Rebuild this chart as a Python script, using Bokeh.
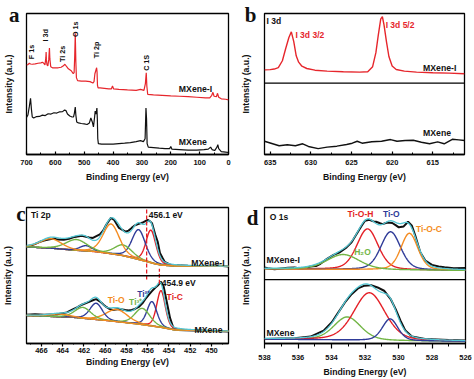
import numpy as np
from bokeh.plotting import figure
from bokeh.layouts import row, column
from bokeh.models import Range1d, Span, Label, SingleIntervalTicker, FixedTicker
from bokeh.embed import file_html
from bokeh.resources import INLINE

# ---------------- colours ----------------
TRACE_RED = "#e6262c"
RED = "#e41f26"
BLUE = "#2f3b98"
GREEN = "#72b545"
ORANGE = "#f48c22"
CYAN = "#55c7d4"
BLACK = "#111111"

# ---------------- (a) survey spectra ----------------
survey_mxi_be = [700, 695, 690, 686, 680, 670, 660, 650, 645, 640, 636, 633, 632, 631, 629, 626, 623,
                 620.5, 619, 616, 610, 600, 590, 580, 572, 567, 562, 555, 545, 538, 535, 533, 531, 529,
                 527, 523, 510, 495, 480, 470, 466, 463, 461, 459, 457, 455.5, 454, 452, 445, 430, 415,
                 406, 402, 398, 380, 350, 320, 305, 293, 288, 285, 283, 280, 260, 230, 200, 170, 140,
                 110, 80, 65, 58, 54, 50, 42, 38, 34, 25, 10, 0]
survey_mxi_int = [63.6, 63.8, 64.7, 64.2, 64.0, 64.3, 64.7, 65.0, 65.4, 64.7, 63.6, 68.5, 72.7, 67.1, 63.6,
                  62.9, 67.1, 75.5, 67.8, 62.2, 61.5, 61.5, 61.5, 61.9, 62.9, 64.0, 62.6, 60.8, 59.4,
                  57.3, 58.0, 69.2, 86.0, 65.7, 54.5, 52.4, 52.1, 52.1, 51.7, 50.7, 51.7, 57.3, 58.7,
                  60.1, 61.5, 58.7, 49.0, 47.2, 47.2, 46.9, 46.5, 46.5, 48.6, 46.5, 46.2, 45.8, 45.5,
                  46.2, 45.5, 50.3, 58.0, 48.6, 42.7, 42.3, 42.0, 41.6, 41.3, 41.0, 40.6, 40.2, 40.2,
                  42.0, 44.1, 41.3, 41.0, 43.4, 40.6, 39.5, 39.2, 38.8]

survey_mx_be = [700, 695, 690, 686, 683, 680, 675, 665, 655, 645, 635, 625, 615, 605, 595, 585, 575, 568,
                563, 558, 550, 542, 537, 534, 531, 529, 526, 520, 510, 500, 490, 482, 477, 472, 468, 464,
                462, 459, 456, 454.5, 453, 451, 440, 420, 400, 380, 360, 340, 320, 305, 295, 289, 286,
                284, 282, 278, 260, 240, 220, 204, 200, 196, 170, 140, 110, 85, 70, 62, 57, 48, 40, 37,
                34, 25, 10, 0]
survey_mx_int = [26.2, 28.0, 34.3, 39.9, 32.2, 26.6, 25.9, 26.9, 27.0, 27.9, 27.6, 28.9, 28.7, 29.6, 29.4,
                 30.3, 30.4, 31.5, 31.1, 28.7, 27.3, 26.6, 26.6, 29.4, 33.6, 28.0, 23.1, 22.4, 22.0, 21.7,
                 21.3, 22.4, 25.9, 23.1, 19.6, 26.6, 30.8, 28.7, 32.9, 25.2, 11.2, 7.7, 7.3, 7.3, 7.3,
                 7.7, 8.0, 8.4, 9.1, 9.8, 9.1, 11.2, 32.9, 25.2, 7.7, 5.2, 4.9, 4.5, 4.2, 4.2, 5.6, 3.8,
                 3.5, 3.1, 3.1, 3.5, 3.8, 5.2, 3.5, 2.8, 5.2, 7.0, 4.2, 2.1, 1.7, 1.4]

# ---------------- (b) I 3d ----------------
i3d_mxi_be = [635.7, 635.0, 634.5, 634.0, 633.5, 633.1, 632.7, 632.4, 632.1, 631.8, 631.5, 631.1, 630.5,
              629.5, 628.0, 626.0, 624.0, 623.0, 622.4, 622.0, 621.7, 621.4, 621.2, 621.0, 620.7, 620.4,
              620.0, 619.5, 618.5, 617.0, 615.0, 613.0, 611.1]
i3d_mxi_int = [60.0, 60.2, 60.6, 61.6, 66.5, 75.0, 83.0, 87.0, 80.0, 70.0, 65.5, 62.6, 61.0, 59.8, 59.1,
               58.7, 58.4, 58.7, 62.3, 72.2, 84.9, 96.2, 97.7, 92.0, 80.0, 69.5, 62.8, 60.3, 59.1, 58.4,
               58.0, 57.7, 57.3]
i3d_mx_be = [635.7, 634.9, 633.9, 632.9, 631.9, 631.0, 630.3, 629.1, 628.0, 626.8, 625.6, 624.9, 624.3,
             623.7, 622.5, 621.3, 620.2, 619.4, 618.4, 617.4, 616.4, 615.4, 614.4, 613.6, 612.6, 611.8,
             611.1]
i3d_mx_int = [9.4, 8.0, 6.2, 6.9, 6.2, 7.6, 5.7, 4.2, 5.2, 5.9, 7.1, 8.0, 9.4, 8.0, 9.0, 9.4, 10.6, 9.4,
              9.9, 10.1, 8.7, 7.6, 9.0, 7.6, 10.8, 10.4, 9.9]

# ---------------- (c) Ti 2p ----------------
ti2p_mxi_be = [467.4, 467.0, 466.67, 466.2, 465.75, 465.1, 464.8, 464.5, 463.9, 463.4, 463.0, 462.2,
               461.8, 461.5, 461.15, 460.5, 460.2, 459.9, 459.46, 459.15, 458.7, 458.1, 457.8, 457.5,
               457.2, 456.9, 456.4, 456.0, 455.8, 455.6, 455.3, 455.05, 454.85, 454.6, 454.4, 453.8,
               453.2, 452.2, 451.3, 450.4, 449.5, 448.4]
ti2p_mxi_int = [71.5, 72.0, 72.9, 74.6, 75.7, 76.9, 77.3, 76.4, 76.2, 77.0, 78.1, 79.2, 78.5, 78.0, 77.6,
                80.3, 83.0, 87.3, 92.4, 90.8, 85.0, 82.2, 83.0, 85.0, 86.9, 87.8, 89.2, 90.8, 90.0, 88.5,
                80.3, 74.5, 66.5, 62.8, 60.0, 57.6, 57.5, 57.2, 57.0, 57.2, 57.3, 56.7]
ti2p_mxi_bg_be = [448.4, 453.5, 454.7, 455.3, 456.0, 456.5, 457.5, 458.5, 459.9, 461.0, 463.0, 465.0, 467.4]
ti2p_mxi_bg = [56.7, 57.0, 57.6, 58.5, 60.0, 61.0, 63.0, 64.8, 66.4, 67.5, 68.6, 70.0, 71.0]
ti2p_mxi_center = [455.7, 456.85, 458.3, 459.45, 461.8, 462.7, 465.1]
ti2p_mxi_height = [24, 22, 8, 22, 4, 8, 7]
ti2p_mxi_fwhm = [1.1, 1.5, 2.0, 1.8, 1.4, 2.4, 2.4]

ti2p_mx_be = [467.4, 466.6, 465.75, 464.5, 463.6, 463.0, 462.6, 462.2, 461.45, 461.1, 460.84, 460.4,
              460.1, 459.9, 459.6, 459.3, 458.7, 458.4, 458.1, 457.8, 457.5, 457.2, 456.84, 456.5,
              456.23, 455.9, 455.6, 455.3, 455.0, 454.75, 454.5, 454.2, 453.9, 453.6, 453.15, 452.5,
              451.6, 450.0, 448.4]
ti2p_mx_int = [21.1, 21.6, 21.1, 21.5, 22.9, 25.3, 26.7, 28.5, 30.8, 32.0, 32.6, 30.3, 28.2, 26.9, 25.5,
               24.6, 25.3, 25.0, 24.6, 24.3, 24.6, 25.4, 26.9, 29.5, 32.6, 35.8, 38.5, 41.0, 43.1, 45.4,
               41.9, 30.3, 18.8, 11.8, 10.0, 9.8, 9.5, 9.2, 8.8]
ti2p_mx_bg_be = [448.4, 453.5, 454.7, 456.84, 459.9, 463.0, 467.4]
ti2p_mx_bg = [9.0, 10.0, 11.8, 14.2, 16.9, 19.2, 20.6]
ti2p_mx_center = [454.75, 455.6, 456.5, 458.9, 460.85, 462.1, 464.3]
ti2p_mx_height = [27, 18, 12, 9, 12, 8, 2]
ti2p_mx_fwhm = [0.95, 1.1, 1.7, 2.4, 1.4, 1.8, 2.4]
ti2p_colors = [RED, BLUE, GREEN, ORANGE, BLUE, GREEN, ORANGE]

ti_c_shift_mxi = 456.1
ti_c_shift_mx = 454.9

# ---------------- (d) O 1s ----------------
o1s_mxi_be = [538.0, 537.8, 537.4, 537.0, 536.6, 536.2, 535.8, 535.25, 534.9, 534.66, 534.27, 533.88,
              533.5, 533.1, 532.8, 532.5, 532.2, 532.0, 531.74, 531.5, 531.34, 531.1, 530.96, 530.66,
              530.37, 530.15, 529.98, 529.69, 529.43, 529.2, 529.0, 528.7, 528.4, 528.0, 527.6, 527.25,
              526.7, 526.0]
o1s_mxi_int = [55.9, 55.4, 54.6, 55.2, 55.7, 55.9, 55.0, 56.6, 57.0, 58.6, 62.2, 65.2, 67.1, 70.7, 74.4,
               80.5, 86.6, 90.3, 91.0, 89.8, 89.5, 88.4, 87.8, 89.0, 88.6, 86.9, 85.4, 86.1, 89.5, 86.6,
               79.3, 67.1, 61.0, 57.8, 56.6, 56.1, 55.4, 55.6]
o1s_mxi_bg_be = [526.0, 538.0]
o1s_mxi_bg = [53.7, 54.9]
o1s_mxi_center = [531.85, 530.47, 529.35, 533.3]
o1s_mxi_height = [30, 28, 27, 11]
o1s_mxi_fwhm = [1.5, 1.4, 1.2, 2.3]
o1s_mxi_colors = [RED, BLUE, ORANGE, GREEN]

o1s_mx_be = [538.0, 537.0, 536.2, 535.25, 534.47, 533.98, 533.59, 533.2, 532.8, 532.42, 532.03, 531.64,
             531.25, 530.86, 530.47, 530.17, 529.88, 529.59, 529.2, 528.42, 527.0, 526.0]
o1s_mx_int = [3.4, 3.7, 3.9, 5.1, 9.5, 15.6, 22.9, 30.2, 36.3, 40.5, 42.5, 42.9, 41.2, 38.8, 32.7, 25.3,
              16.8, 9.5, 5.1, 3.4, 2.6, 2.2]
o1s_mx_bg_be = [526.0, 530.0, 534.0, 538.0]
o1s_mx_bg = [1.6, 2.0, 2.7, 3.2]
o1s_mx_center = [533.06, 531.74, 530.5]
o1s_mx_height = [17, 35, 16]
o1s_mx_fwhm = [1.9, 2.2, 1.1]
o1s_mx_colors = [GREEN, RED, BLUE]

FONT = "Liberation Sans"


def pseudo_voigt(e, center, height, fwhm, eta=0.3):
    x = (e - center) / fwhm
    return height * ((1 - eta) * np.exp(-4 * np.log(2) * x ** 2) + eta / (1 + 4 * x ** 2))


def make_panel(x_start, x_end, interval, width, height, left, right, top, bottom,
               tick_in, tick_out, standoff, label_standoff,
               letter, letter_y, letter_gap, ylabel_standoff):
    p = figure(width=width, height=height, x_range=Range1d(x_start, x_end), y_range=Range1d(0, 100),
               output_backend="svg", toolbar_location=None,
               min_border_left=left, min_border_right=right, min_border_top=top,
               min_border_bottom=bottom)
    p.grid.visible = False
    p.outline_line_color = "black"
    p.outline_line_width = 1.3
    p.outline_line_alpha = 1.0

    ax = p.xaxis[0]
    ax.ticker = SingleIntervalTicker(interval=interval, num_minor_ticks=2)
    ax.axis_line_color = "black"
    ax.axis_line_width = 1.3
    ax.major_tick_in = tick_in
    ax.major_tick_out = tick_out
    ax.minor_tick_in = max(tick_in - 1, 0)
    ax.minor_tick_out = max(tick_out - 2, 0)
    ax.major_tick_line_width = 1.2
    ax.minor_tick_line_width = 1.0
    ax.major_label_text_font = FONT
    ax.major_label_text_font_style = "bold"
    ax.major_label_text_font_size = "7.5px"
    ax.major_label_text_color = BLACK
    ax.major_label_standoff = standoff
    ax.axis_label = "Binding Energy (eV)"
    ax.axis_label_text_font = FONT
    ax.axis_label_text_font_style = "bold"
    ax.axis_label_text_font_size = "8.7px"
    ax.axis_label_text_color = BLACK
    ax.axis_label_standoff = label_standoff

    # the left axis carries the panel letter and the intensity label
    yax = p.yaxis[0]
    yax.ticker = FixedTicker(ticks=[letter_y])
    yax.major_label_overrides = {letter_y: letter}
    yax.major_label_text_font = "Liberation Serif"
    yax.major_label_text_font_style = "bold"
    yax.major_label_text_font_size = "21px"
    yax.major_label_text_color = BLACK
    yax.major_label_standoff = letter_gap
    yax.major_tick_line_color = None
    yax.minor_tick_line_color = None
    yax.major_tick_in = 0
    yax.major_tick_out = 0
    yax.axis_line_color = None
    yax.axis_label = "Intensity (a.u.)"
    yax.axis_label_text_font = FONT
    yax.axis_label_text_font_style = "bold"
    yax.axis_label_text_font_size = "8.7px"
    yax.axis_label_text_color = BLACK
    yax.axis_label_standoff = ylabel_standoff
    return p


def text(p, x, y, s, size="8.5px", color=BLACK, align="left", baseline="middle", angle=0.0):
    p.add_layout(Label(x=x, y=y, text=s, text_font=FONT, text_font_style="bold",
                       text_font_size=size, text_color=color, text_align=align,
                       text_baseline=baseline, angle=angle))


def divider(p, y):
    p.add_layout(Span(location=y, dimension="width", line_color="black", line_width=1.3))


def fitted(p, grid, data_be, data_int, bg_be, bg_int, centers, heights, fwhms, colors):
    bg = np.interp(grid, bg_be, bg_int)
    p.line(data_be, data_int, line_color=BLACK, line_width=2.0)
    total = bg.copy()
    for c, h, w, col in zip(centers, heights, fwhms, colors):
        comp = pseudo_voigt(grid, c, h, w)
        total = total + comp
        p.line(grid, bg + comp, line_color=col, line_width=1.4)
    p.line(grid, total, line_color=CYAN, line_width=1.3)


# ---------------- panel a ----------------
pa = make_panel(700, 0, 100, 237, 190, 22, 9, 11, 36, 3, 0, 5, 4, "a", 99, 7, -8)
pa.line(survey_mx_be, survey_mx_int, line_color=BLACK, line_width=1.2)
pa.line(survey_mxi_be, survey_mxi_int, line_color=TRACE_RED, line_width=1.2)
rot = np.pi / 2
for lx, ly, s in [(683, 72.7, "F 1s"), (633.7, 84.6, "I 3d"), (574.3, 71.3, "Ti 2s"),
                  (530.1, 88.8, "O 1s"), (458.7, 74.1, "Ti 2p"), (285.5, 65.0, "C 1S")]:
    text(pa, lx, ly, s, size="7.2px", align="center", angle=rot)
text(pa, 172, 46.2, "MXene-I", size="8.7px")
text(pa, 172, 8.6, "MXene", size="8.7px")

# ---------------- panel b ----------------
pb = make_panel(635.7, 611.1, 5, 237, 190, 23, 10, 13, 36, 3, 0, 5, 4, "b", 99, 8, -9)
divider(pb, 50.6)
pb.line(i3d_mx_be, i3d_mx_int, line_color=BLACK, line_width=1.4)
pb.line(i3d_mxi_be, i3d_mxi_int, line_color=TRACE_RED, line_width=1.4)
text(pb, 635.45, 95.0, "I 3d")
text(pb, 631.9, 85.1, "I 3d 3/2", color=TRACE_RED)
text(pb, 620.8, 91.5, "I 3d 5/2", color=TRACE_RED)
text(pb, 616.2, 61.0, "MXene-I", size="8.7px")
text(pb, 616.2, 15.1, "MXene", size="8.7px")

# ---------------- panel c ----------------
pc = make_panel(467.4, 448.4, 2, 237, 189, 22, 9, 17, 28, 0, 3, 1, 1, "c", 95, 1, 0)
divider(pc, 49.8)
grid_c = np.linspace(448.4, 467.4, 600)
fitted(pc, grid_c, ti2p_mxi_be, ti2p_mxi_int, ti2p_mxi_bg_be, ti2p_mxi_bg,
       ti2p_mxi_center, ti2p_mxi_height, ti2p_mxi_fwhm, ti2p_colors)
fitted(pc, grid_c, ti2p_mx_be, ti2p_mx_int, ti2p_mx_bg_be, ti2p_mx_bg,
       ti2p_mx_center, ti2p_mx_height, ti2p_mx_fwhm, ti2p_colors)
pc.segment(x0=[ti_c_shift_mxi], y0=[47], x1=[ti_c_shift_mxi], y1=[100], line_color=RED,
           line_dash="4 2", line_width=1.3)
pc.segment(x0=[ti_c_shift_mx], y0=[44], x1=[ti_c_shift_mx], y1=[55], line_color=RED,
           line_dash="4 2", line_width=1.3)
text(pc, 466.97, 94.4, "Ti 2p")
text(pc, 455.9, 94.4, f"{ti_c_shift_mxi} eV")
text(pc, 454.68, 44.7, f"{ti_c_shift_mx} eV")
text(pc, 451.9, 59.0, "MXene-I", size="8.7px")
text(pc, 451.6, 9.7, "MXene", size="8.7px")
text(pc, 459.75, 31.7, "Ti-O", color=ORANGE)
text(pc, 457.75, 30.6, "Ti\u00b3\u207a", color=GREEN)
text(pc, 456.99, 36.3, "Ti\u00b2\u207a", color=BLUE)
text(pc, 454.22, 34.0, "Ti-C", color=RED)

# ---------------- panel d ----------------
pd = make_panel(538, 526, 2, 237, 189, 23, 9, 17, 36, 0, 5, 6, 4, "d", 92, 6, -7)
divider(pd, 47.0)
grid_d = np.linspace(526, 538, 500)
fitted(pd, grid_d, o1s_mxi_be, o1s_mxi_int, o1s_mxi_bg_be, o1s_mxi_bg,
       o1s_mxi_center, o1s_mxi_height, o1s_mxi_fwhm, o1s_mxi_colors)
fitted(pd, grid_d, o1s_mx_be, o1s_mx_int, o1s_mx_bg_be, o1s_mx_bg,
       o1s_mx_center, o1s_mx_height, o1s_mx_fwhm, o1s_mx_colors)
text(pd, 537.69, 92.9, "O 1s")
text(pd, 532.27, 95.4, "Ti-O-H", color=RED, align="center")
text(pd, 530.43, 95.4, "Ti-O", color=BLUE, align="center")
text(pd, 528.18, 83.9, "Ti-O-C", color=ORANGE, align="center")
text(pd, 532.15, 67.2, "H\u2082O", color=GREEN, align="center")
text(pd, 537.88, 61.1, "MXene-I", size="8.7px")
text(pd, 537.88, 7.8, "MXene", size="8.7px")

layout = column(row(pa, pb), row(pc, pd))
open("out.html", "w").write(file_html(layout, INLINE))
